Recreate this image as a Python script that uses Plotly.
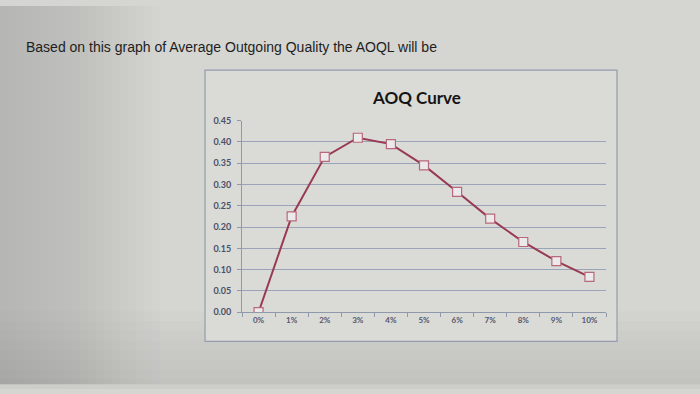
import plotly.graph_objects as go

# ---- data ----
categories = ["0%", "1%", "2%", "3%", "4%", "5%", "6%", "7%", "8%", "9%", "10%"]
aoq_values = [0.000, 0.225, 0.365, 0.410, 0.395, 0.345, 0.283, 0.220, 0.165, 0.120, 0.083]
y_tick_vals = [0.00, 0.05, 0.10, 0.15, 0.20, 0.25, 0.30, 0.35, 0.40, 0.45]

W, H = 700, 394

def px_x(x):
    return x / W

def px_y(y):
    return 1 - y / H

fig = go.Figure()
fig.add_trace(go.Scatter(
    x=categories,
    y=aoq_values,
    mode="lines+markers",
    line=dict(color="#983a52", width=2),
    marker=dict(symbol="square", size=9, color="#ece9ea",
                line=dict(color="#b8687c", width=1.2)),
    showlegend=False,
    hoverinfo="x+y",
))

# soft vignette on the left / bottom made of thin translucent stripes
vignette = []
for i in range(20):
    vignette.append(dict(type="rect", xref="paper", yref="paper", layer="below",
                         x0=0, x1=px_x(8 * (i + 1)), y0=0, y1=1,
                         fillcolor="rgba(105,107,105,0.017)", line=dict(width=0)))
for i in range(8):
    vignette.append(dict(type="rect", xref="paper", yref="paper", layer="below",
                         x0=0, x1=1, y0=0, y1=px_y(394 - 10 * (i + 1)),
                         fillcolor="rgba(105,107,105,0.02)", line=dict(width=0)))

fig.update_layout(
    width=W, height=H,
    margin=dict(l=0, r=0, t=0, b=0),
    paper_bgcolor="#d5d5d1",
    plot_bgcolor="rgba(0,0,0,0)",
    font=dict(family="Lato, Open Sans, sans-serif", color="#4a4f63"),
    xaxis=dict(
        type="category",
        domain=[px_x(242), px_x(606)],
        range=[-0.5, 10.5],
        tickson="boundaries",
        ticks="outside", ticklen=4, tickcolor="#9098ac",
        showgrid=False,
        showline=True, linecolor="#9098ac", linewidth=1,
        tickfont=dict(size=8, color="#525870", family="Lato, sans-serif", weight="bold"),
        zeroline=False,
        fixedrange=True,
    ),
    yaxis=dict(
        domain=[px_y(315), px_y(118)],
        range=[0, 0.45],
        tickvals=y_tick_vals,
        tickformat=".2f",
        ticks="outside", ticklen=4, tickcolor="#9098ac",
        ticklabelstandoff=4,
        showgrid=True, gridcolor="#9aa3b8", gridwidth=1.3,
        showline=True, linecolor="#9098ac", linewidth=1,
        zeroline=False,
        tickfont=dict(size=9, color="#4a5066", family="Lato, sans-serif", weight="bold"),
        fixedrange=True,
    ),
    shapes=vignette + [
        # lighter bottom strip (monitor edge)
        dict(type="rect", xref="paper", yref="paper", layer="below",
             x0=0, x1=1, y0=0, y1=px_y(389),
             fillcolor="#cdcdc9", line=dict(width=0)),
        # chart box
        dict(type="rect", xref="paper", yref="paper", layer="below",
             x0=px_x(205), x1=px_x(617), y0=px_y(345), y1=px_y(66),
             fillcolor="#dadad6", line=dict(color="#969cad", width=1.2)),
    ],
    annotations=[
        dict(text="Based on this graph of Average Outgoing Quality the AOQL will be",
             xref="paper", yref="paper", x=px_x(24), y=px_y(42),
             xanchor="left", yanchor="middle", showarrow=False,
             font=dict(family="Liberation Sans, Arial, sans-serif", size=14, color="#1e1e1e")),
        dict(text="<b>AOQ Curve</b>",
             xref="paper", yref="paper", x=px_x(416), y=px_y(94),
             xanchor="center", yanchor="middle", showarrow=False,
             font=dict(family="Lato, Open Sans, sans-serif", size=17, color="#141414")),
    ],
)

fig.write_html("out.html", config={"displayModeBar": False},
               post_script="document.body.style.margin='0';")
